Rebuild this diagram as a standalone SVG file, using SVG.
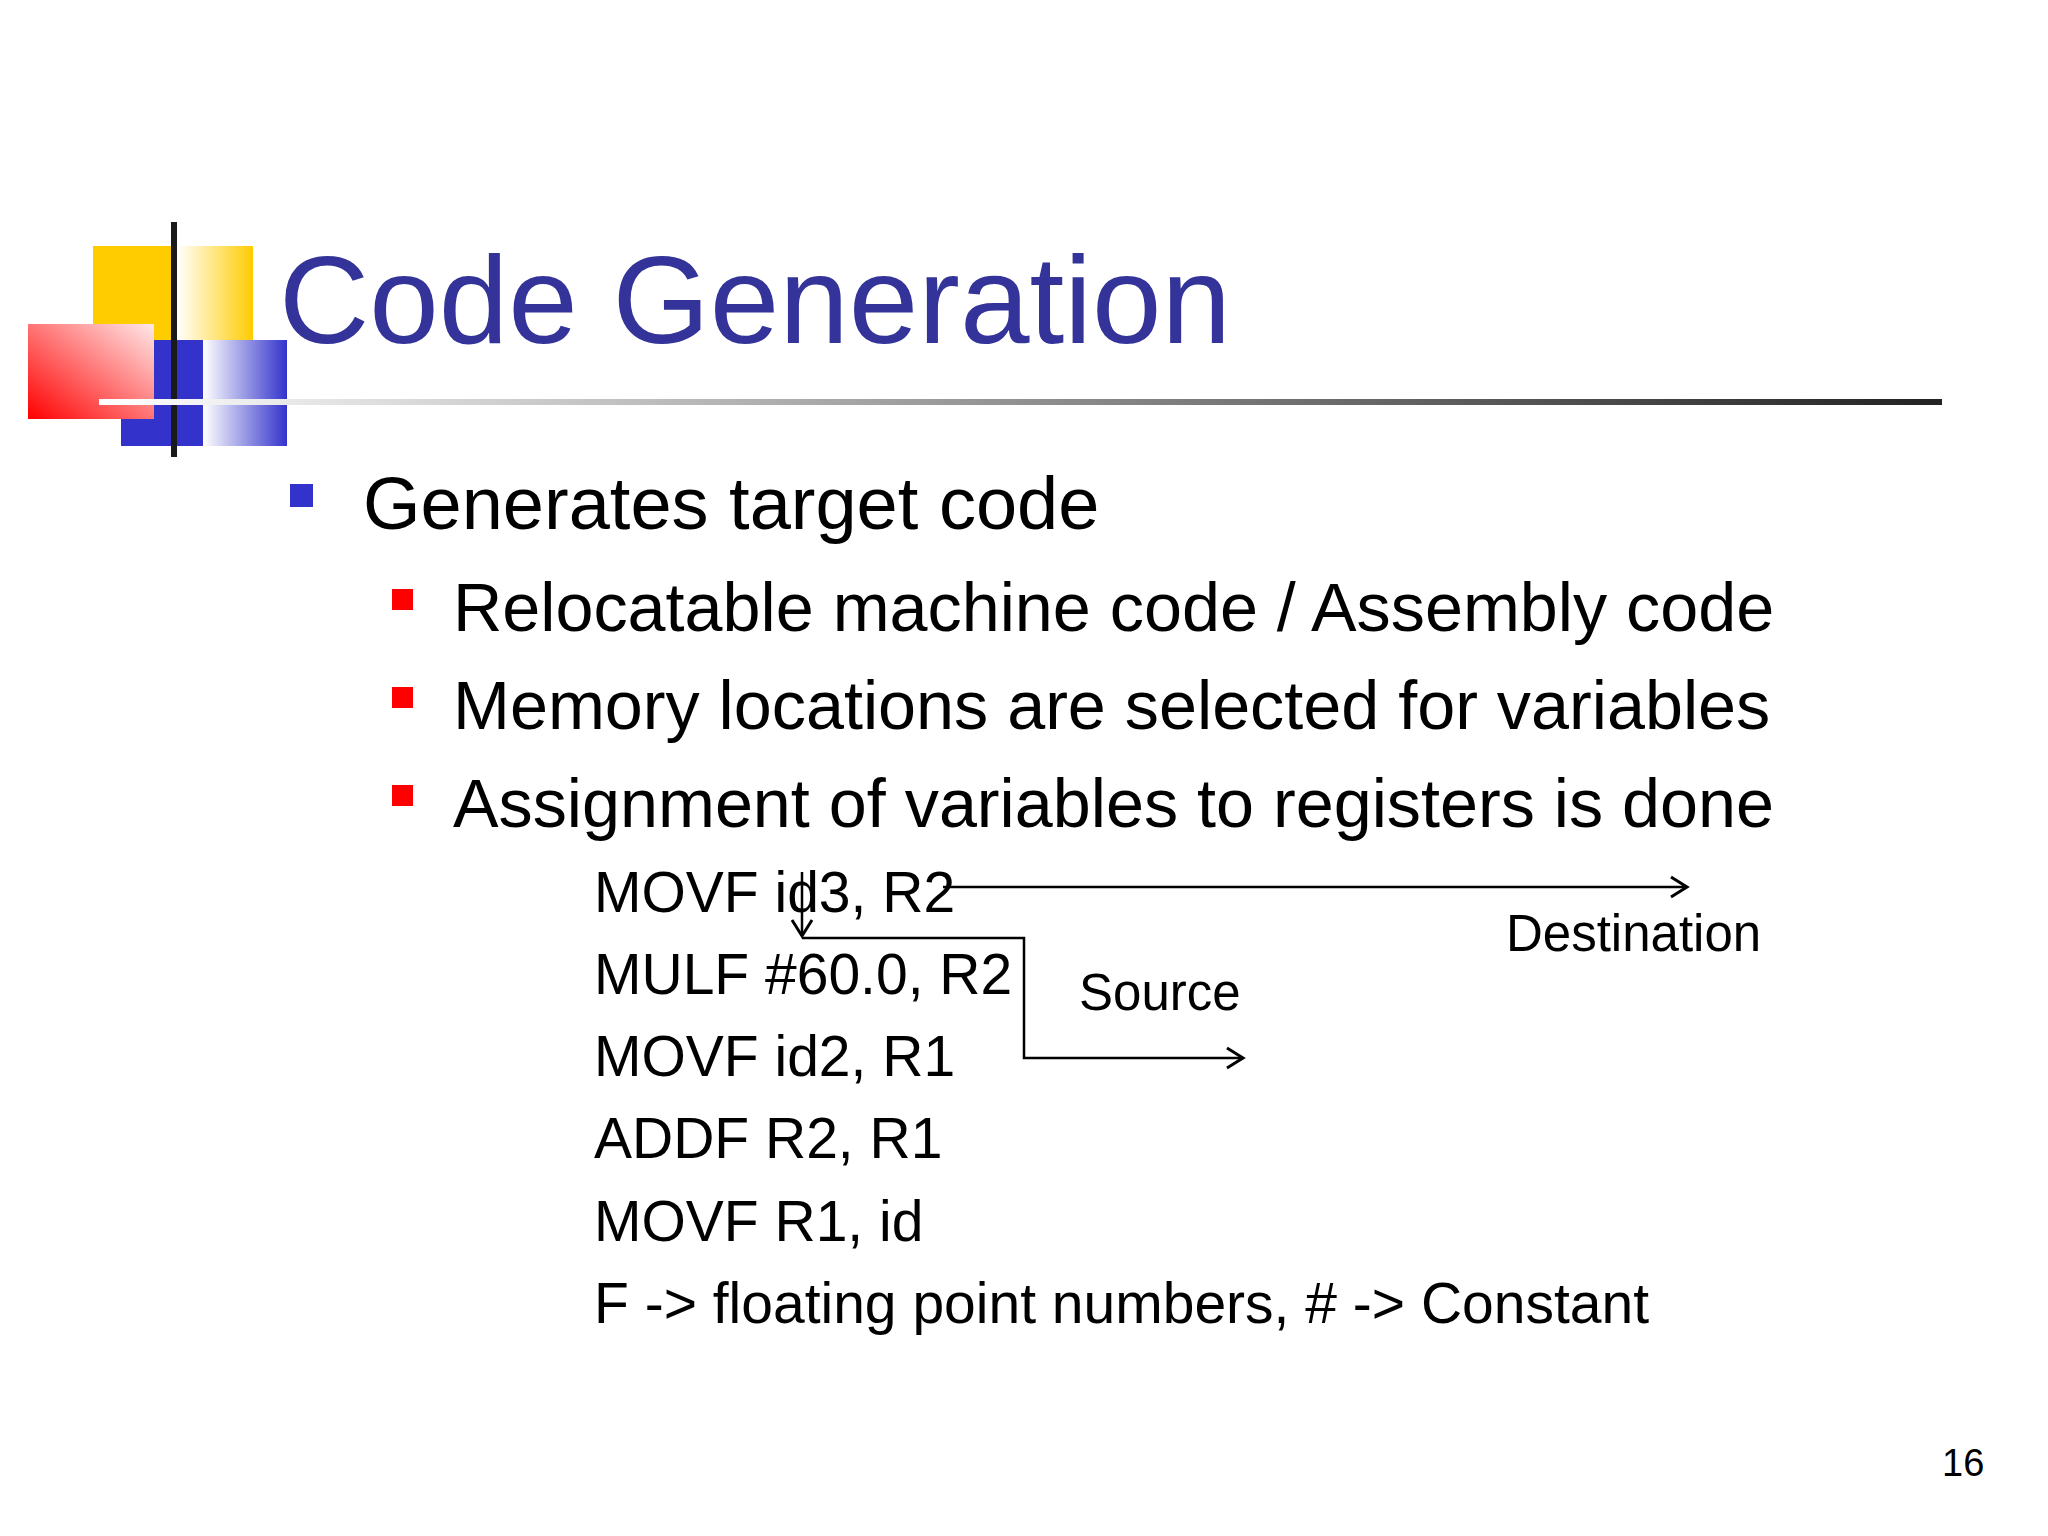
<svg xmlns="http://www.w3.org/2000/svg" width="2048" height="1536" viewBox="0 0 2048 1536">
<defs>
<linearGradient id="yg" x1="0" x2="1" y1="0" y2="0"><stop offset="0" stop-color="#fff"/><stop offset="1" stop-color="#ffcc00"/></linearGradient>
<linearGradient id="bg" x1="0" x2="1" y1="0" y2="0"><stop offset="0" stop-color="#fff"/><stop offset="1" stop-color="#3333cc"/></linearGradient>
<linearGradient id="rg" x1="0" y1="1" x2="1" y2="0"><stop offset="0" stop-color="#ff0000"/><stop offset="1" stop-color="#ffe8e8"/></linearGradient>
<linearGradient id="lg" x1="0" x2="1" y1="0" y2="0"><stop offset="0" stop-color="#fff"/><stop offset="1" stop-color="#222"/></linearGradient>
<marker id="ah" markerWidth="24" markerHeight="28" refX="20" refY="14" orient="auto" markerUnits="userSpaceOnUse"><path d="M4,4 L20,14 L4,24" fill="none" stroke="#000" stroke-width="3"/></marker>
<style>
text{font-family:"Liberation Sans",Arial,sans-serif;fill:#000}
.t{font-size:125px;fill:#333399}
.b1{font-size:74px}
.b2{font-size:68.3px}
.c{font-size:57px}
.ln{fill:none;stroke:#000;stroke-width:2.5}
</style>
</defs>
<rect width="2048" height="1536" fill="#fff"/>
<g id="logo">
<rect x="93" y="246" width="84" height="94" fill="#ffcc00"/>
<rect x="177" y="246" width="76" height="94" fill="url(#yg)"/>
<rect x="121" y="340" width="82" height="106" fill="#3333cc"/>
<rect x="203" y="340" width="84" height="106" fill="url(#bg)"/>
<rect x="28" y="324" width="126" height="95" fill="url(#rg)"/>
<rect x="171" y="222" width="6" height="235" fill="#1a1a1a"/>
<rect x="99" y="399" width="1843" height="6" fill="url(#lg)"/>
</g>
<text class="t" x="279" y="343">Code Generation</text>
<g id="bullets">
<rect x="290" y="484" width="23" height="23" fill="#3333cc"/>
<text class="b1" x="363" y="529">Generates target code</text>
<rect x="392" y="589" width="21" height="21" fill="#ff0000"/>
<text class="b2" x="453" y="631">Relocatable machine code / Assembly code</text>
<rect x="392" y="687" width="21" height="21" fill="#ff0000"/>
<text class="b2" x="453" y="729">Memory locations are selected for variables</text>
<rect x="392" y="785" width="21" height="21" fill="#ff0000"/>
<text class="b2" x="453" y="827">Assignment of variables to registers is done</text>
</g>
<g id="code">
<text class="c" x="594" y="912">MOVF id3, R2</text>
<text class="c" x="594" y="994">MULF #60.0, R2</text>
<text class="c" x="594" y="1076">MOVF id2, R1</text>
<text class="c" x="594" y="1158">ADDF R2, R1</text>
<text class="c" x="594" y="1241">MOVF R1, id</text>
<text class="c" x="594" y="1323">F -&gt; floating point numbers, # -&gt; Constant</text>
<text class="c" x="1506" y="951" style="font-size:51px">Destination</text>
<text class="c" x="1079" y="1010" style="font-size:51px">Source</text>
</g>
<g id="connectors">
<line class="ln" x1="943" y1="887" x2="1687" y2="887" marker-end="url(#ah)"/>
<line class="ln" x1="802" y1="872" x2="802" y2="936" marker-end="url(#ah)"/>
<polyline class="ln" points="802,938 1024,938 1024,1058 1243,1058" marker-end="url(#ah)"/>
</g>
<text x="1942" y="1476" style="font-size:38px">16</text>
</svg>
